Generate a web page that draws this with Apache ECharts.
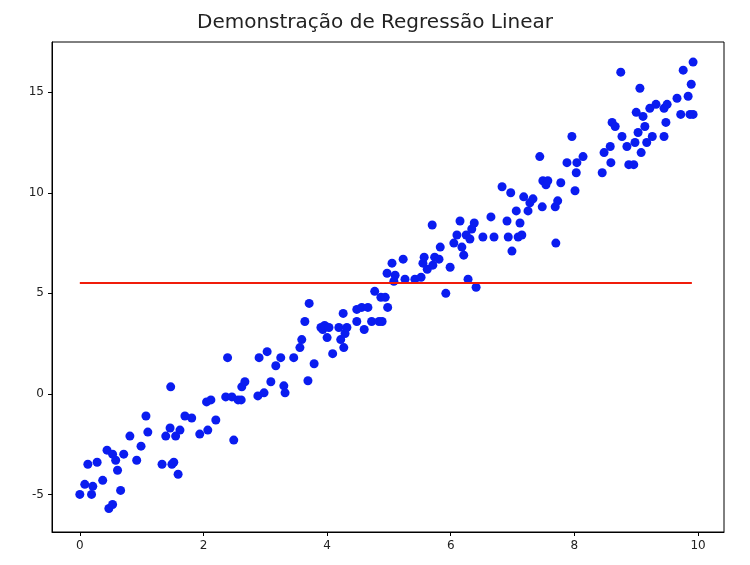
<!DOCTYPE html>
<html><head><meta charset="utf-8">
<script src="https://cdn.jsdelivr.net/npm/echarts@6/dist/echarts.min.js"></script>
<style>html,body{margin:0;background:#fff}#c{width:750px;height:565px}</style>
</head><body><div id="c"></div>
<script>
var xs = [0,0.08,0.13,0.19,0.21,0.28,0.37,0.44,0.47,0.53,0.53,0.58,0.61,0.66,0.71,0.81,0.92,0.99,1.07,1.10,
1.33,1.39,1.46,1.47,1.49,1.52,1.55,1.59,1.62,1.70,1.81,1.94,2.05,2.07,2.12,2.20,2.36,2.39,2.46,2.49,
2.56,2.61,2.62,2.67,2.88,2.90,2.98,3.03,3.09,3.17,3.25,3.30,3.32,3.46,3.56,3.59,3.64,3.69,3.71,3.79,
3.90,3.93,3.96,4.00,4.03,4.09,4.19,4.22,4.26,4.27,4.29,4.32,4.48,4.48,4.56,4.60,4.66,4.72,4.77,4.84,
4.87,4.89,4.94,4.98,4.97,5.05,5.08,5.10,5.23,5.26,5.42,5.52,5.55,5.57,5.62,5.70,5.71,5.74,5.81,5.83,
5.92,5.99,6.05,6.10,6.15,6.18,6.21,6.25,6.28,6.31,6.34,6.38,6.41,6.52,6.65,6.70,6.83,6.91,6.93,6.97,
6.99,7.06,7.09,7.12,7.15,7.18,7.25,7.28,7.33,7.44,7.48,7.49,7.54,7.57,7.69,7.70,7.73,7.78,7.88,7.96,
8.01,8.03,8.04,8.14,8.45,8.48,8.58,8.59,8.61,8.66,8.75,8.77,8.85,8.88,8.96,8.98,9.00,9.03,9.06,9.08,
9.11,9.14,9.17,9.22,9.26,9.32,9.45,9.45,9.48,9.50,9.66,9.72,9.76,9.84,9.87,9.89,9.92,9.92];
var ys = [-5.0,-4.5,-3.5,-5.0,-4.6,-3.4,-4.3,-2.8,-5.7,-5.5,-3.0,-3.3,-3.8,-4.8,-3.0,-2.1,-3.3,-2.6,-1.1,-1.9,
-3.5,-2.1,-1.7,0.35,-3.5,-3.4,-2.1,-4.0,-1.8,-1.1,-1.2,-2.0,-0.4,-1.8,-0.3,-1.3,-0.15,1.8,-0.15,-2.3,
-0.3,-0.3,0.35,0.6,-0.1,1.8,0.05,2.1,0.6,1.4,1.8,0.4,0.05,1.8,2.3,2.7,3.6,0.65,4.5,1.5,
3.3,3.2,3.4,2.8,3.3,2.0,3.3,2.7,4.0,2.3,3.0,3.3,3.6,4.2,4.3,3.2,4.3,3.6,5.1,3.6,
4.8,3.6,4.8,4.3,6.0,6.5,5.6,5.9,6.7,5.7,5.7,5.8,6.5,6.8,6.2,8.4,6.4,6.8,6.7,7.3,
5.0,6.3,7.5,7.9,8.6,7.3,6.9,7.9,5.7,7.7,8.2,8.5,5.3,7.8,8.8,7.8,10.3,8.6,7.8,10.0,
7.1,9.1,7.8,8.5,7.9,9.8,9.1,9.5,9.7,11.8,9.3,10.6,10.4,10.6,9.3,7.5,9.6,10.5,11.5,12.8,
10.1,11.0,11.5,11.8,11.0,12.0,12.3,11.5,13.5,13.3,16.0,12.8,12.3,11.4,11.4,12.5,14.0,13.0,15.2,12.0,
13.8,13.3,12.5,14.2,12.8,14.4,12.8,14.2,13.5,14.4,14.7,13.9,16.1,14.8,13.9,15.4,16.5,13.9];
var lineX = [0, 9.9];
var lineY = [5.52, 5.52];
var xTicks = [0, 2, 4, 6, 8, 10];
var yTicks = [-5, 0, 5, 10, 15];

var pts = xs.map(function (x, i) { return [x, ys[i]]; });
var linePts = lineX.map(function (x, i) { return [x, lineY[i]]; });
var axisCommon = {
    axisLine: {onZero: false, lineStyle: {color: '#000'}},
    axisTick: {length: 4, lineStyle: {color: '#000'}},
    axisLabel: {color: '#222', fontSize: 12, fontFamily: 'DejaVu Sans'},
    splitLine: {show: false}
};
var chart = echarts.init(document.getElementById('c'));
chart.setOption({
    animation: false,
    title: {text: 'Demonstração de Regressão Linear', left: 'center', top: 8,
        textStyle: {fontWeight: 'normal', fontSize: 20, color: '#222', fontFamily: 'DejaVu Sans'}},
    grid: {left: 52, right: 26, top: 42, bottom: 33, show: true, borderColor: '#000', borderWidth: 1},
    xAxis: Object.assign({}, axisCommon, {type: 'value', min: -0.45, max: 10.42,
        axisTick: {length: 4, customValues: xTicks, lineStyle: {color: '#000'}},
        axisLabel: {color: '#222', fontSize: 12, fontFamily: 'DejaVu Sans', customValues: xTicks}}),
    yAxis: Object.assign({}, axisCommon, {type: 'value', min: -6.87, max: 17.5,
        axisTick: {length: 4, customValues: yTicks, lineStyle: {color: '#000'}},
        axisLabel: {color: '#222', fontSize: 12, fontFamily: 'DejaVu Sans', customValues: yTicks}}),
    series: [
        {type: 'scatter', data: pts, symbolSize: 9, itemStyle: {color: '#0a1cf0', opacity: 1}},
        {type: 'line', data: linePts, symbol: 'none', lineStyle: {color: '#f01c0a', width: 2}}
    ]
});
</script></body></html>
